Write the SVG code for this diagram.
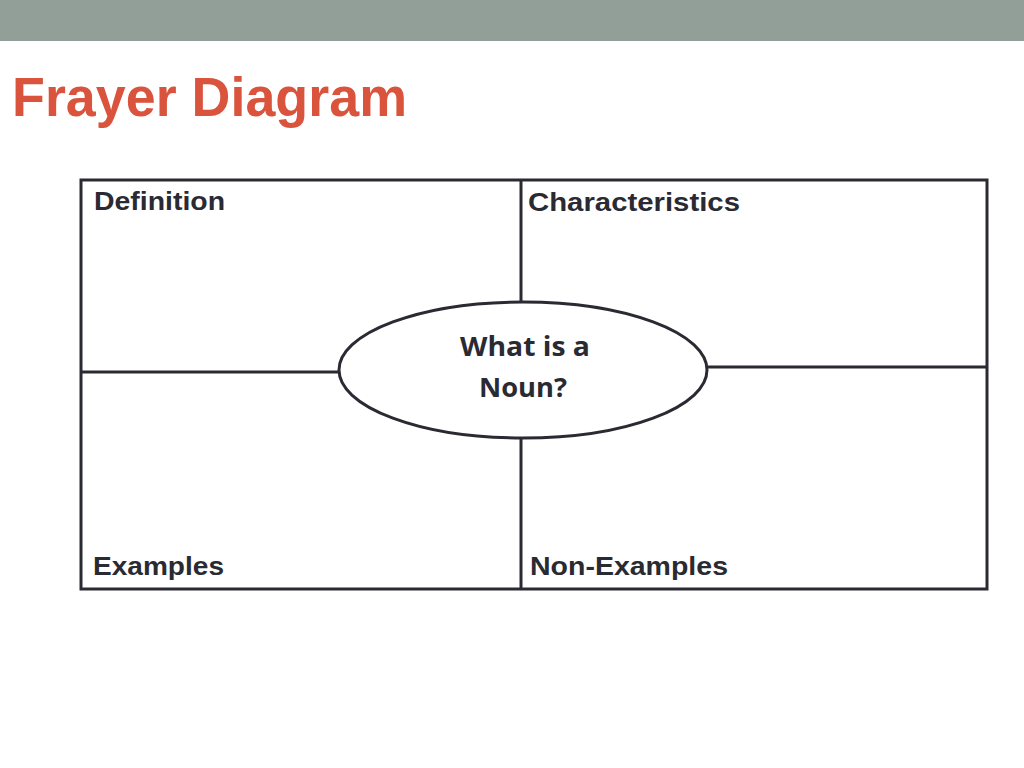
<svg xmlns="http://www.w3.org/2000/svg" width="1024" height="768" viewBox="0 0 1024 768">
  <style>
    .ln { stroke: #2a2a33; stroke-width: 3; fill: none; }
    .lbl { font-family: "Liberation Sans", Arial, sans-serif; font-weight: bold; font-size: 26px; fill: #2a2a33; }
    .ctr { font-family: "Open Sans", "Noto Sans", sans-serif; font-weight: bold; font-size: 26px; fill: #2a2a33; text-anchor: middle; }
  </style>
  <rect x="0" y="0" width="1024" height="768" fill="#ffffff"/>
  <rect id="topbar" x="0" y="0" width="1024" height="41" fill="#919f98"/>
  <text id="title" x="12" y="116" font-family="'Liberation Sans', Arial, sans-serif" font-weight="bold" font-size="55" fill="#d9533d" textLength="395" lengthAdjust="spacingAndGlyphs">Frayer Diagram</text>

  <g id="frame">
    <rect class="ln" x="81" y="180" width="906" height="409"/>
  </g>

  <g id="connectors">
    <line class="ln" x1="521" y1="180" x2="521" y2="302"/>
    <line class="ln" x1="521" y1="438" x2="521" y2="589"/>
    <line class="ln" x1="81" y1="372" x2="339" y2="372"/>
    <line class="ln" x1="707" y1="367" x2="987" y2="367"/>
  </g>

  <g id="definition">
    <text class="lbl" x="94" y="210" textLength="131" lengthAdjust="spacingAndGlyphs">Definition</text>
  </g>
  <g id="characteristics">
    <text class="lbl" x="528" y="211" textLength="212" lengthAdjust="spacingAndGlyphs">Characteristics</text>
  </g>
  <g id="examples">
    <text class="lbl" x="93" y="575" textLength="131" lengthAdjust="spacingAndGlyphs">Examples</text>
  </g>
  <g id="non-examples">
    <text class="lbl" x="530" y="575" textLength="198" lengthAdjust="spacingAndGlyphs">Non-Examples</text>
  </g>

  <g id="center">
    <ellipse cx="523" cy="370" rx="184" ry="68" fill="#ffffff" stroke="#2a2a33" stroke-width="3"/>
    <text class="ctr" x="525" y="356" textLength="130" lengthAdjust="spacingAndGlyphs">What is a</text>
    <text class="ctr" x="523" y="397" textLength="88" lengthAdjust="spacingAndGlyphs">Noun?</text>
  </g>
</svg>
